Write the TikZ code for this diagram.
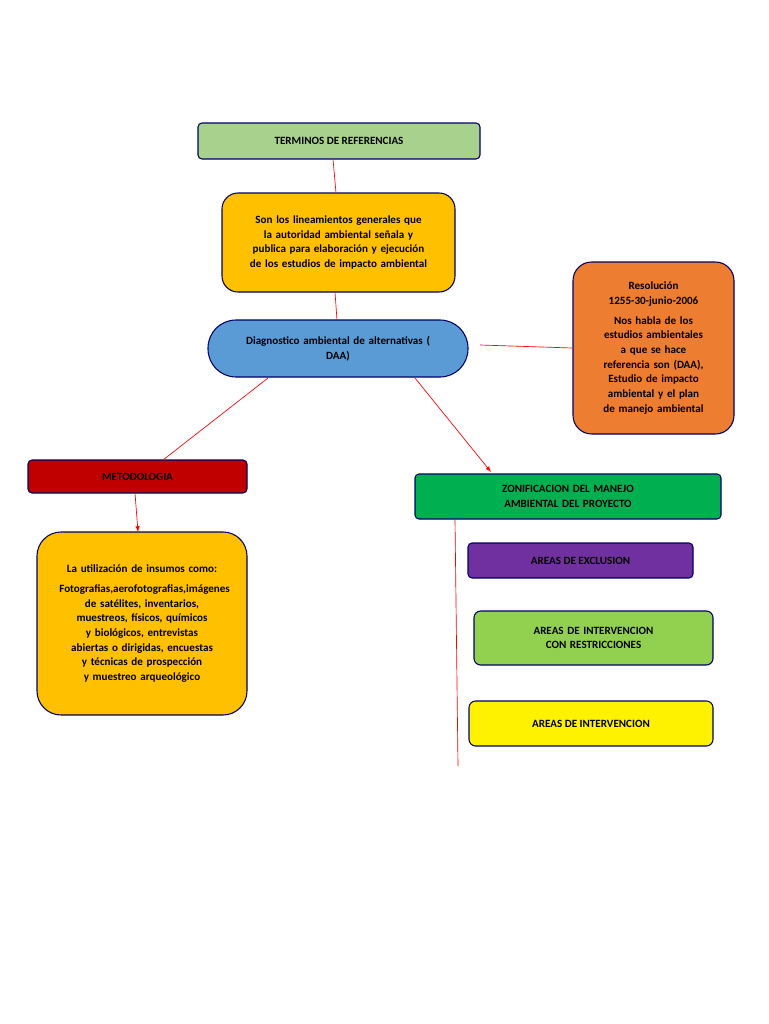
\documentclass[tikz,border=0pt]{standalone}
\usepackage{fontspec}
\setmainfont{Carlito}
\hyphenpenalty=10000 \exhyphenpenalty=10000
\begin{document}
\begin{tikzpicture}[x=0.75pt,y=-0.75pt,
 box/.style={draw=blue!40!black,line width=0.8pt,font=\bfseries\fontsize{8.3}{11}\selectfont,align=center,inner sep=0pt},
 lnk/.style={draw=red,line width=0.5pt}]
\useasboundingbox (0,0) rectangle (768,1024);
\definecolor{gA}{HTML}{A9D18E}\definecolor{yA}{HTML}{FFC000}\definecolor{bA}{HTML}{5B9BD5}
\definecolor{oA}{HTML}{ED7D31}\definecolor{rA}{HTML}{C00000}\definecolor{g2}{HTML}{00B050}
\definecolor{pA}{HTML}{7030A0}\definecolor{g3}{HTML}{92D050}
\node[box,fill=gA,minimum width=282*0.75pt,minimum height=36*0.75pt,rounded corners=3pt] (ter) at (339,141) {TERMINOS DE REFERENCIAS};
\node[box,fill=yA,minimum width=233*0.75pt,minimum height=99*0.75pt,rounded corners=12pt,text width=152pt] (son) at (338.5,242.5) {Son los lineamientos generales que la autoridad ambiental señala y publica para elaboración y ejecución de los estudios de impacto ambiental};
\node[box,fill=bA,minimum width=260*0.75pt,minimum height=57*0.75pt,rounded corners=21pt,text width=160pt] (dia) at (338,348.5) {Diagnostico ambiental de alternativas (\\DAA)};
\node[box,fill=oA,minimum width=161*0.75pt,minimum height=172*0.75pt,rounded corners=14pt,text width=92pt] (res) at (653.5,348) {Resolución 1255-30-junio-2006\\[4pt] Nos habla de los estudios ambientales a que se hace referencia son (DAA), Estudio de impacto ambiental y el plan de manejo ambiental};
\node[box,fill=rA,minimum width=219*0.75pt,minimum height=33*0.75pt,rounded corners=3pt] (met) at (137.5,476.5) {METODOLOGIA};
\node[box,fill=yA,minimum width=210*0.75pt,minimum height=183*0.75pt,rounded corners=18pt,text width=124pt] (uti) at (142,623.5) {La utilización de insumos como:\\[4pt] Fotografias,aerofotografias,im\-ágenes de satélites, inventarios, muestreos, físicos, químicos y biológicos, entrevistas abiertas o dirigidas, encuestas y técnicas de prospección y muestreo arqueológico};
\node[box,fill=g2,minimum width=306*0.75pt,minimum height=45*0.75pt,rounded corners=3pt,text width=195pt] (zon) at (568,496.5) {ZONIFICACION DEL MANEJO AMBIENTAL DEL PROYECTO};
\node[box,fill=pA,minimum width=225*0.75pt,minimum height=35*0.75pt,rounded corners=3pt] (exc) at (580.5,560.5) {AREAS DE EXCLUSION};
\node[box,fill=g3,minimum width=239*0.75pt,minimum height=54*0.75pt,rounded corners=5pt,text width=135pt] (rst) at (593.5,638) {AREAS DE INTERVENCION CON RESTRICCIONES};
\node[box,fill=yellow,minimum width=244*0.75pt,minimum height=45*0.75pt,rounded corners=5pt] (int) at (591,723.5) {AREAS DE INTERVENCION};
\coordinate (dr) at (480,345);
\coordinate (ze) at (458,766);
\draw[lnk] (333,159) -- (336,193);
\draw[lnk] (335,292) -- (337,320);
\draw[lnk] (dr) -- (res.west);
\draw[lnk] (268,378) -- (163,460);
\draw[lnk,-latex] (415,378) -- (491,472);
\draw[lnk,-latex] (135,493) -- (138,532);
\draw[lnk] (455,519) -- (ze);
\end{tikzpicture}
\end{document}
